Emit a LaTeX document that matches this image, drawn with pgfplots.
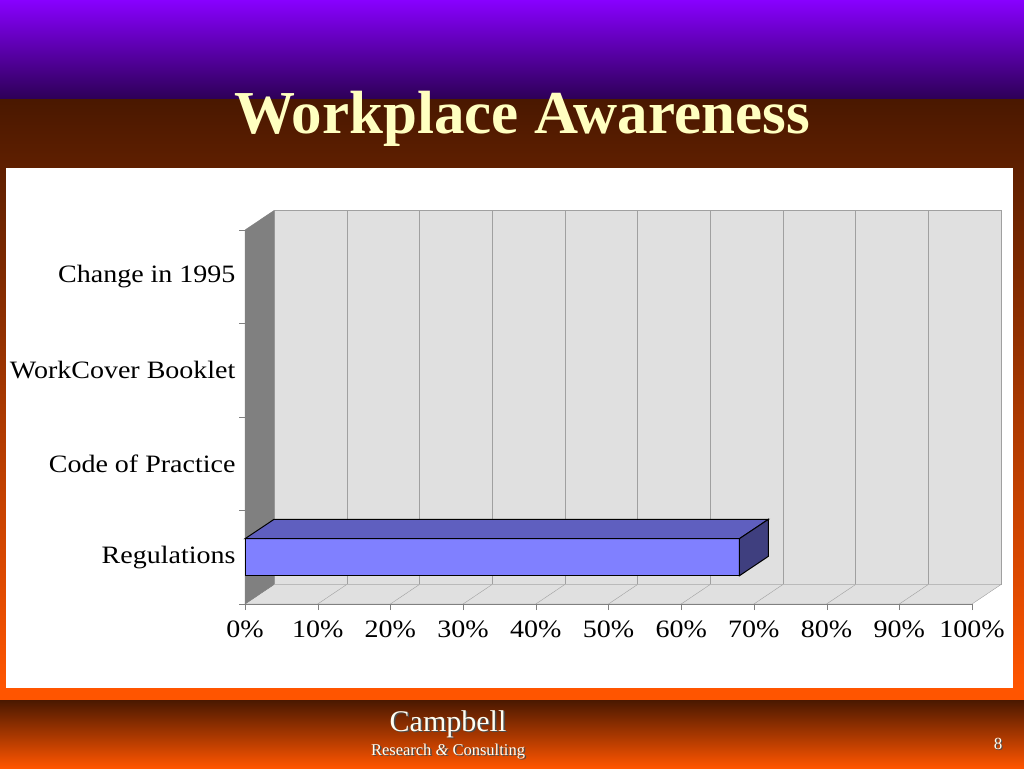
\documentclass[border=0pt]{standalone}
\usepackage{pgfplots}
\pgfplotsset{compat=1.18}
\usepackage{fontspec}
\setmainfont{Liberation Serif}
\newfontfamily\lblfont[FakeStretch=1.12]{Liberation Serif}
\definecolor{purpTop}{HTML}{8800FF}
\definecolor{purpBot}{HTML}{2C0055}
\definecolor{brownTop}{HTML}{4A1800}
\definecolor{orangeBot}{HTML}{FF5500}
\definecolor{titleY}{HTML}{FFFFC0}
\definecolor{wallC}{HTML}{E0E0E0}
\definecolor{sideWall}{HTML}{808080}
\definecolor{gridC}{HTML}{A0A0A0}
\definecolor{axisC}{HTML}{808080}
\definecolor{barFront}{HTML}{8080FF}
\definecolor{barTop}{HTML}{5F5FBF}
\definecolor{barSide}{HTML}{3F3F7F}
\begin{document}
\begin{tikzpicture}[x=1pt,y=1pt]
% slide background
\shade[top color=purpTop, bottom color=purpBot] (0,768) rectangle (1024,668);
\shade[top color=brownTop, bottom color=orangeBot] (0,668) rectangle (1024,80);
\fill[orangeBot] (0,80) rectangle (1024,68);
\shade[top color=brownTop, bottom color=orangeBot] (0,68) rectangle (1024,0);
\fill[white] (6,80) rectangle (1013,600);
% title
\node[anchor=base, text=titleY, font=\fontsize{61}{64}\selectfont\bfseries] at (522,634) {Workplace Awareness};
% footer
\node[anchor=base, text=black!70, font=\fontsize{30}{33}\selectfont] at (449.5,35.5) {Campbell};
\node[anchor=base, text=white!95!yellow, font=\fontsize{30}{33}\selectfont] at (448,37) {Campbell};
\node[anchor=base, text=black!70, font=\fontsize{16.5}{18}\selectfont] at (449.5,11.5) {Research \textit{\&} Consulting};
\node[anchor=base, text=white!95!yellow, font=\fontsize{16.5}{18}\selectfont] at (448,13) {Research \textit{\&} Consulting};
\node[anchor=base, text=black!70, font=\fontsize{17}{18}\selectfont] at (999,18) {8};
\node[anchor=base, text=white!95!yellow, font=\fontsize{17}{18}\selectfont] at (998,19) {8};
% 3D walls
\fill[wallC, draw=gridC] (274,183.5) rectangle (1001,557.5);
\fill[wallC, draw=gridC] (245,164) -- (972,164) -- (1001,183.5) -- (274,183.5) -- cycle;
\fill[sideWall, draw=gray] (245,164) -- (245,538) -- (274,557.5) -- (274,183.5) -- cycle;
\foreach \i in {1,...,9} {
  \draw[gridC] ({274+72.7*\i},183.5) -- ({274+72.7*\i},557.5);
  \draw[gridC] ({245+72.7*\i},164) -- ({274+72.7*\i},183.5);
}
\begin{axis}[
  at={(245pt,164pt)}, anchor=south west,
  scale only axis, width=727pt, height=374pt,
  xmin=0, xmax=100, ymin=-0.5, ymax=3.5,
  axis x line*=bottom, axis y line*=left,
  axis line style={draw=axisC,-},
  xtick={0,10,...,100},
  xticklabel={\pgfmathprintnumber{\tick}\%},
  ytick={-0.5,0.5,1.5,2.5,3.5},
  y tick label as interval,
  yticklabels={Regulations,Code of Practice,WorkCover Booklet,Change in 1995},
  tick align=outside, major tick length=6pt,
  tick style={draw=axisC},
  ticklabel style={font=\lblfont\fontsize{25}{28}\selectfont},
  /pgf/number format/assume math mode=true,
  xticklabel style={yshift=-7pt},
  clip=false,
]
\addplot[xbar, bar width=37pt, fill=barFront, draw=black, line width=1pt] coordinates {(68,0)};
\addplot[fill=barTop, draw=black, line width=1pt, mark=none] coordinates {(0,0.198) (68,0.198) (72,0.406) (4,0.406)} -- cycle;
\addplot[fill=barSide, draw=black, line width=1pt, mark=none] coordinates {(68,-0.198) (72,0.0106) (72,0.406) (68,0.198)} -- cycle;
\end{axis}
\end{tikzpicture}
\end{document}
